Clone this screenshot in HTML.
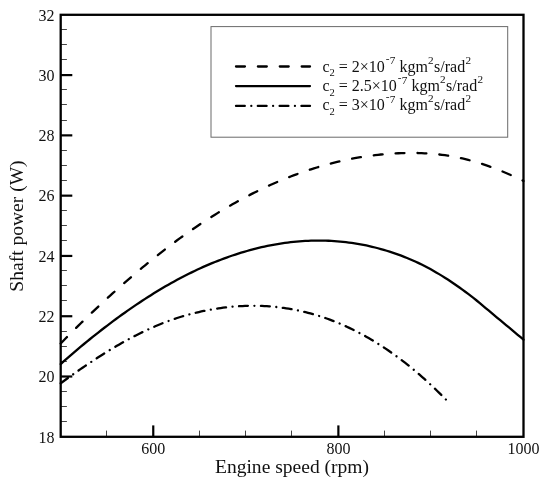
<!DOCTYPE html>
<html><head><meta charset="utf-8"><title>Shaft power vs engine speed</title>
<style>
html,body{margin:0;padding:0;background:#fff;}
svg{display:block;font-family:"Liberation Serif",serif;fill:#111;}
.maj{stroke:#000;stroke-width:2.2;}
.min{stroke:#444;stroke-width:1;}
.tl{font-size:16px;}
.lg{font-size:16px;}
.sub{font-size:10.5px;}
.sup{font-size:11.2px;}
.ax{font-size:19.55px;}
.cv{fill:none;stroke:#000;stroke-width:2.3;stroke-linecap:round;stroke-linejoin:round;}
</style></head><body>
<svg width="550" height="485" viewBox="0 0 550 485">
<rect x="0" y="0" width="550" height="485" fill="#fff"/>
<g>
<line x1="60.70" y1="376.51" x2="72.30" y2="376.51" class="maj"/>
<line x1="60.70" y1="316.23" x2="72.30" y2="316.23" class="maj"/>
<line x1="60.70" y1="255.94" x2="72.30" y2="255.94" class="maj"/>
<line x1="60.70" y1="195.66" x2="72.30" y2="195.66" class="maj"/>
<line x1="60.70" y1="135.37" x2="72.30" y2="135.37" class="maj"/>
<line x1="60.70" y1="75.09" x2="72.30" y2="75.09" class="maj"/>
<line x1="60.70" y1="421.50" x2="66.90" y2="421.50" class="min"/>
<line x1="60.70" y1="406.50" x2="66.90" y2="406.50" class="min"/>
<line x1="60.70" y1="391.50" x2="66.90" y2="391.50" class="min"/>
<line x1="60.70" y1="361.50" x2="66.90" y2="361.50" class="min"/>
<line x1="60.70" y1="346.50" x2="66.90" y2="346.50" class="min"/>
<line x1="60.70" y1="331.50" x2="66.90" y2="331.50" class="min"/>
<line x1="60.70" y1="300.50" x2="66.90" y2="300.50" class="min"/>
<line x1="60.70" y1="285.50" x2="66.90" y2="285.50" class="min"/>
<line x1="60.70" y1="270.50" x2="66.90" y2="270.50" class="min"/>
<line x1="60.70" y1="240.50" x2="66.90" y2="240.50" class="min"/>
<line x1="60.70" y1="225.50" x2="66.90" y2="225.50" class="min"/>
<line x1="60.70" y1="210.50" x2="66.90" y2="210.50" class="min"/>
<line x1="60.70" y1="180.50" x2="66.90" y2="180.50" class="min"/>
<line x1="60.70" y1="165.50" x2="66.90" y2="165.50" class="min"/>
<line x1="60.70" y1="150.50" x2="66.90" y2="150.50" class="min"/>
<line x1="60.70" y1="120.50" x2="66.90" y2="120.50" class="min"/>
<line x1="60.70" y1="104.50" x2="66.90" y2="104.50" class="min"/>
<line x1="60.70" y1="89.50" x2="66.90" y2="89.50" class="min"/>
<line x1="60.70" y1="59.50" x2="66.90" y2="59.50" class="min"/>
<line x1="60.70" y1="44.50" x2="66.90" y2="44.50" class="min"/>
<line x1="60.70" y1="29.50" x2="66.90" y2="29.50" class="min"/>
<line x1="153.26" y1="436.80" x2="153.26" y2="425.40" class="maj"/>
<line x1="338.38" y1="436.80" x2="338.38" y2="425.40" class="maj"/>
<line x1="106.50" y1="436.80" x2="106.50" y2="430.60" class="min"/>
<line x1="199.50" y1="436.80" x2="199.50" y2="430.60" class="min"/>
<line x1="245.50" y1="436.80" x2="245.50" y2="430.60" class="min"/>
<line x1="291.50" y1="436.80" x2="291.50" y2="430.60" class="min"/>
<line x1="384.50" y1="436.80" x2="384.50" y2="430.60" class="min"/>
<line x1="430.50" y1="436.80" x2="430.50" y2="430.60" class="min"/>
<line x1="476.50" y1="436.80" x2="476.50" y2="430.60" class="min"/>
</g>
<path class="cv" d="M60.70,343.43 L63.61,340.46 L66.52,337.51 L69.43,334.58 L72.34,331.67 L75.25,328.77 L78.16,325.90 L81.07,323.05 L83.99,320.21 L86.90,317.40 L89.81,314.60 L92.72,311.83 L95.63,309.08 L98.54,306.34 L101.45,303.63 L104.36,300.93 L107.27,298.26 L110.18,295.60 L113.09,292.97 L116.00,290.35 L118.91,287.76 L121.82,285.18 L124.74,282.63 L127.65,280.10 L130.56,277.58 L133.47,275.09 L136.38,272.62 L139.29,270.16 L142.20,267.73 L145.11,265.32 L148.02,262.93 L150.93,260.55 L153.84,258.20 L156.75,255.88 L159.66,253.57 L162.57,251.30 L165.48,249.05 L168.40,246.82 L171.31,244.62 L174.22,242.44 L177.13,240.29 L180.04,238.17 L182.95,236.07 L185.86,233.99 L188.77,231.95 L191.68,229.92 L194.59,227.93 L197.50,225.96 L200.41,224.01 L203.32,222.09 L206.23,220.19 L209.15,218.32 L212.06,216.48 L214.97,214.66 L217.88,212.87 L220.79,211.11 L223.70,209.37 L226.61,207.65 L229.52,205.96 L232.43,204.30 L235.34,202.66 L238.25,201.05 L241.16,199.47 L244.07,197.91 L246.98,196.38 L249.89,194.87 L252.81,193.39 L255.72,191.94 L258.63,190.51 L261.54,189.11 L264.45,187.73 L267.36,186.38 L270.27,185.06 L273.18,183.76 L276.09,182.49 L279.00,181.25 L281.91,180.03 L284.82,178.84 L287.73,177.67 L290.64,176.53 L293.56,175.42 L296.47,174.33 L299.38,173.28 L302.29,172.24 L305.20,171.24 L308.11,170.26 L311.02,169.30 L313.93,168.38 L316.84,167.48 L319.75,166.61 L322.66,165.76 L325.57,164.94 L328.48,164.15 L331.39,163.38 L334.31,162.64 L337.22,161.93 L340.13,161.25 L343.04,160.59 L345.95,159.96 L348.86,159.35 L351.77,158.78 L354.68,158.23 L357.59,157.70 L360.50,157.21 L363.41,156.74 L366.32,156.30 L369.23,155.88 L372.14,155.49 L375.05,155.13 L377.97,154.80 L380.88,154.50 L383.79,154.22 L386.70,153.97 L389.61,153.74 L392.52,153.55 L395.43,153.38 L398.34,153.24 L401.25,153.12 L404.16,153.04 L407.07,152.98 L409.98,152.95 L412.89,152.95 L415.80,152.99 L418.72,153.05 L421.63,153.15 L424.54,153.28 L427.45,153.45 L430.36,153.65 L433.27,153.89 L436.18,154.17 L439.09,154.48 L442.00,154.83 L444.91,155.22 L447.82,155.66 L450.73,156.13 L453.64,156.65 L456.55,157.20 L459.46,157.81 L462.38,158.45 L465.29,159.14 L468.20,159.88 L471.11,160.66 L474.02,161.47 L476.93,162.33 L479.84,163.23 L482.75,164.17 L485.66,165.15 L488.57,166.16 L491.48,167.21 L494.39,168.30 L497.30,169.42 L500.21,170.58 L503.13,171.76 L506.04,172.99 L508.95,174.24 L511.86,175.52 L514.77,176.84 L517.68,178.18 L520.59,179.55 L523.50,180.95" stroke-dasharray="8.9 13.0"/>
<path class="cv" d="M60.70,364.03 L63.61,361.44 L66.52,358.88 L69.43,356.34 L72.34,353.83 L75.25,351.34 L78.16,348.87 L81.07,346.43 L83.99,344.01 L86.90,341.62 L89.81,339.25 L92.72,336.90 L95.63,334.58 L98.54,332.29 L101.45,330.01 L104.36,327.77 L107.27,325.54 L110.18,323.35 L113.09,321.17 L116.00,319.02 L118.91,316.90 L121.82,314.80 L124.74,312.72 L127.65,310.67 L130.56,308.65 L133.47,306.65 L136.38,304.67 L139.29,302.72 L142.20,300.80 L145.11,298.89 L148.02,297.02 L150.93,295.17 L153.84,293.34 L156.75,291.55 L159.66,289.78 L162.57,288.04 L165.48,286.34 L168.40,284.66 L171.31,283.02 L174.22,281.40 L177.13,279.82 L180.04,278.26 L182.95,276.74 L185.86,275.24 L188.77,273.78 L191.68,272.35 L194.59,270.94 L197.50,269.57 L200.41,268.23 L203.32,266.92 L206.23,265.64 L209.15,264.39 L212.06,263.17 L214.97,261.99 L217.88,260.83 L220.79,259.71 L223.70,258.61 L226.61,257.55 L229.52,256.52 L232.43,255.52 L235.34,254.55 L238.25,253.61 L241.16,252.70 L244.07,251.83 L246.98,250.98 L249.89,250.17 L252.81,249.39 L255.72,248.64 L258.63,247.92 L261.54,247.24 L264.45,246.58 L267.36,245.96 L270.27,245.37 L273.18,244.82 L276.09,244.30 L279.00,243.81 L281.91,243.35 L284.82,242.93 L287.73,242.55 L290.64,242.19 L293.56,241.87 L296.47,241.59 L299.38,241.34 L302.29,241.12 L305.20,240.94 L308.11,240.79 L311.02,240.68 L313.93,240.61 L316.84,240.57 L319.75,240.56 L322.66,240.59 L325.57,240.66 L328.48,240.76 L331.39,240.90 L334.31,241.08 L337.22,241.29 L340.13,241.54 L343.04,241.83 L345.95,242.16 L348.86,242.52 L351.77,242.92 L354.68,243.36 L357.59,243.83 L360.50,244.35 L363.41,244.90 L366.32,245.49 L369.23,246.12 L372.14,246.79 L375.05,247.50 L377.97,248.25 L380.88,249.03 L383.79,249.86 L386.70,250.73 L389.61,251.64 L392.52,252.59 L395.43,253.58 L398.34,254.62 L401.25,255.70 L404.16,256.82 L407.07,257.99 L409.98,259.21 L412.89,260.48 L415.80,261.79 L418.72,263.16 L421.63,264.57 L424.54,266.03 L427.45,267.54 L430.36,269.11 L433.27,270.73 L436.18,272.40 L439.09,274.12 L442.00,275.89 L444.91,277.71 L447.82,279.57 L450.73,281.49 L453.64,283.45 L456.55,285.46 L459.46,287.51 L462.38,289.61 L465.29,291.75 L468.20,293.93 L471.11,296.15 L474.02,298.32 L476.93,300.75 L479.84,303.18 L482.75,305.61 L485.66,308.04 L488.57,310.47 L491.48,312.90 L494.39,315.33 L497.30,317.76 L500.21,320.19 L503.13,322.62 L506.04,325.05 L508.95,327.48 L511.86,329.92 L514.77,332.35 L517.68,334.78 L520.59,337.21 L523.50,339.64"/>
<path class="cv" d="M60.70,383.26 L63.12,381.49 L65.55,379.73 L67.97,377.98 L70.40,376.24 L72.82,374.52 L75.25,372.81 L77.67,371.11 L80.10,369.42 L82.52,367.75 L84.95,366.09 L87.37,364.45 L89.80,362.82 L92.22,361.21 L94.64,359.62 L97.07,358.04 L99.49,356.48 L101.92,354.93 L104.34,353.41 L106.77,351.90 L109.19,350.41 L111.62,348.94 L114.04,347.49 L116.47,346.06 L118.89,344.65 L121.32,343.26 L123.74,341.90 L126.16,340.55 L128.59,339.23 L131.01,337.93 L133.44,336.66 L135.86,335.41 L138.29,334.18 L140.71,332.97 L143.14,331.79 L145.56,330.64 L147.99,329.51 L150.41,328.40 L152.84,327.31 L155.26,326.26 L157.68,325.23 L160.11,324.23 L162.53,323.25 L164.96,322.31 L167.38,321.39 L169.81,320.50 L172.23,319.64 L174.66,318.81 L177.08,318.01 L179.51,317.23 L181.93,316.49 L184.35,315.77 L186.78,315.07 L189.20,314.41 L191.63,313.77 L194.05,313.16 L196.48,312.57 L198.90,312.01 L201.33,311.47 L203.75,310.96 L206.18,310.47 L208.60,310.01 L211.03,309.57 L213.45,309.15 L215.87,308.76 L218.30,308.39 L220.72,308.04 L223.15,307.72 L225.57,307.42 L228.00,307.15 L230.42,306.90 L232.85,306.68 L235.27,306.48 L237.70,306.30 L240.12,306.16 L242.55,306.03 L244.97,305.93 L247.39,305.86 L249.82,305.81 L252.24,305.79 L254.67,305.80 L257.09,305.83 L259.52,305.89 L261.94,305.97 L264.37,306.08 L266.79,306.22 L269.22,306.38 L271.64,306.57 L274.07,306.79 L276.49,307.04 L278.91,307.31 L281.34,307.61 L283.76,307.94 L286.19,308.30 L288.61,308.68 L291.04,309.10 L293.46,309.54 L295.89,310.01 L298.31,310.51 L300.74,311.03 L303.16,311.59 L305.59,312.18 L308.01,312.79 L310.43,313.44 L312.86,314.11 L315.28,314.81 L317.71,315.55 L320.13,316.31 L322.56,317.10 L324.98,317.93 L327.41,318.78 L329.83,319.66 L332.26,320.58 L334.68,321.52 L337.11,322.50 L339.53,323.50 L341.95,324.54 L344.38,325.61 L346.80,326.71 L349.23,327.84 L351.65,329.00 L354.08,330.19 L356.50,331.42 L358.93,332.67 L361.35,333.96 L363.78,335.28 L366.20,336.63 L368.62,338.01 L371.05,339.43 L373.47,340.88 L375.90,342.36 L378.32,343.87 L380.75,345.42 L383.17,346.99 L385.60,348.60 L388.02,350.25 L390.45,351.93 L392.87,353.64 L395.30,355.38 L397.72,357.16 L400.14,358.97 L402.57,360.81 L404.99,362.69 L407.42,364.60 L409.84,366.55 L412.27,368.52 L414.69,370.54 L417.12,372.59 L419.54,374.67 L421.97,376.79 L424.39,378.94 L426.82,381.12 L429.24,383.35 L431.66,385.60 L434.09,387.89 L436.51,390.22 L438.94,392.58 L441.36,394.98 L443.79,397.41 L446.21,399.88" stroke-dasharray="8.9 6.5 0.01 6.5"/>
<rect x="60.7" y="14.8" width="462.80" height="422.00" fill="none" stroke="#000" stroke-width="2.3"/>
<rect x="211" y="26.6" width="296.7" height="110.6" fill="#fff" stroke="#6a6a6a" stroke-width="1"/>
<path class="cv" d="M236,66.5H310" stroke-dasharray="8.9 13.0"/>
<path class="cv" d="M236,86.1H310"/>
<path class="cv" d="M236,105.9H310" stroke-dasharray="8.8 6.5 0.01 6.5"/>
<text x="322.4" y="71.6" class="lg">c<tspan class="sub" dy="4.7">2</tspan><tspan dy="-4.7"> = 2×10</tspan><tspan class="sup" dy="-10.0" dx="1.0">-</tspan><tspan class="sup" dy="2.5" dx="0.3">7</tspan><tspan dy="7.5" dx="0"> kgm</tspan><tspan class="sup" dy="-8">2</tspan><tspan dy="8" dx="0.6">s/rad</tspan><tspan class="sup" dy="-8" dx="0.3">2</tspan></text>
<text x="322.4" y="91.2" class="lg">c<tspan class="sub" dy="4.7">2</tspan><tspan dy="-4.7"> = 2.5×10</tspan><tspan class="sup" dy="-10.0" dx="1.0">-</tspan><tspan class="sup" dy="2.5" dx="0.3">7</tspan><tspan dy="7.5" dx="0"> kgm</tspan><tspan class="sup" dy="-8">2</tspan><tspan dy="8" dx="0.6">s/rad</tspan><tspan class="sup" dy="-8" dx="0.3">2</tspan></text>
<text x="322.4" y="110.4" class="lg">c<tspan class="sub" dy="4.7">2</tspan><tspan dy="-4.7"> = 3×10</tspan><tspan class="sup" dy="-10.0" dx="1.0">-</tspan><tspan class="sup" dy="2.5" dx="0.3">7</tspan><tspan dy="7.5" dx="0"> kgm</tspan><tspan class="sup" dy="-8">2</tspan><tspan dy="8" dx="0.6">s/rad</tspan><tspan class="sup" dy="-8" dx="0.3">2</tspan></text>
<text x="54.4" y="442.60" text-anchor="end" class="tl">18</text>
<text x="54.4" y="382.31" text-anchor="end" class="tl">20</text>
<text x="54.4" y="322.03" text-anchor="end" class="tl">22</text>
<text x="54.4" y="261.74" text-anchor="end" class="tl">24</text>
<text x="54.4" y="201.46" text-anchor="end" class="tl">26</text>
<text x="54.4" y="141.17" text-anchor="end" class="tl">28</text>
<text x="54.4" y="80.89" text-anchor="end" class="tl">30</text>
<text x="54.4" y="20.60" text-anchor="end" class="tl">32</text>
<text x="153.26" y="453.8" text-anchor="middle" class="tl">600</text>
<text x="338.38" y="453.8" text-anchor="middle" class="tl">800</text>
<text x="523.50" y="453.8" text-anchor="middle" class="tl">1000</text>
<text x="292.0" y="472.5" text-anchor="middle" class="ax">Engine speed (rpm)</text>
<text transform="translate(23.1,226.0) rotate(-90)" text-anchor="middle" class="ax">Shaft power (W)</text>
</svg>
</body></html>
